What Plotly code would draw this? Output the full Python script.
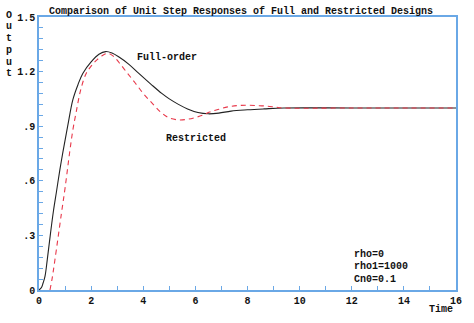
import plotly.graph_objects as go

# Unit step responses (time, output)
t_full = [0, 0.1, 0.16, 0.23, 0.32, 0.44, 0.55, 0.67, 0.8, 0.92, 1.1, 1.3, 1.5, 1.68,
          2.0, 2.3, 2.56, 2.8, 3.07, 3.45, 3.83, 4.3, 4.71, 5.0, 5.35, 5.7, 6.1, 6.5,
          6.9, 7.37, 8.0, 8.63, 9.4, 12.0, 16.0]
y_full = [0, 0.015, 0.04, 0.075, 0.17, 0.31, 0.43, 0.54, 0.66, 0.76, 0.9, 1.046, 1.13, 1.19,
          1.253, 1.295, 1.31, 1.302, 1.28, 1.24, 1.19, 1.13, 1.08, 1.05, 1.02, 0.995, 0.975, 0.968,
          0.972, 0.983, 0.99, 0.995, 1.0, 1.0, 1.0]

t_restr = [0.42, 0.5, 0.61, 0.86, 1.0, 1.18, 1.3, 1.43, 1.6, 1.81, 2.0, 2.19, 2.45, 2.65,
           2.85, 3.07, 3.4, 3.7, 4.0, 4.33, 4.65, 4.97, 5.34, 5.65, 5.98, 6.3, 6.55, 6.9,
           7.24, 7.6, 8.0, 8.4, 8.76, 9.1, 9.4, 12.0, 16.0]
y_restr = [0, 0.06, 0.165, 0.42, 0.56, 0.76, 0.88, 0.98, 1.1, 1.19, 1.23, 1.26, 1.29, 1.30,
           1.285, 1.25, 1.19, 1.136, 1.08, 1.028, 0.98, 0.947, 0.935, 0.937, 0.947, 0.962, 0.978, 0.993,
           1.006, 1.013, 1.015, 1.013, 1.01, 1.004, 1.0, 1.0, 1.0]

y_tickvals = [0, 0.3, 0.6, 0.9, 1.2, 1.5]
y_ticktext = ["0", ".3", ".6", ".9", "1.2", "1.5"]
x_tickvals = [0, 2, 4, 6, 8, 10, 12, 14, 16]

W, H = 474, 323
L, R, T, B = 39, 13, 12, 33
AXIS_BLUE = "#6aa8e6"
FONT = "Liberation Mono"


def px(x, y):
    """Pixel position -> paper coordinates."""
    return (x - L) / (W - L - R), (H - B - y) / (H - T - B)


fig = go.Figure()
fig.add_trace(go.Scatter(x=t_full, y=y_full, mode="lines",
                         line=dict(color="#222222", width=1.1), line_shape="spline"))
fig.add_trace(go.Scatter(x=t_restr, y=y_restr, mode="lines",
                         line=dict(color="#e8384a", width=1.1, dash="5px,4px"),
                         line_shape="spline"))

fnt = dict(family=FONT, size=10, color="#111111")


def label(text, x, y, xanchor="left", size=10):
    xp, yp = px(x, y)
    fig.add_annotation(text=text, x=xp, y=yp, xref="paper", yref="paper",
                       xanchor=xanchor, yanchor="middle", showarrow=False,
                       font=dict(family=FONT, size=size, color="#111111"))


label("<b>Comparison of Unit Step Responses of Full and Restricted Designs</b>", 243, 6, "center")
label("<b>Full-order</b>", 136, 53)
label("<b>Restricted</b>", 166, 136)
label("<b>rho=0</b>", 356, 254)
label("<b>rho1=1000</b>", 356, 266.5)
label("<b>Cn0=0.1</b>", 356, 279)
label("<b>Time</b>", 446, 310, "center")
for i, ch in enumerate("Output"):
    label("<b>%s</b>" % ch, 9, 10 + i * 12, "center")

fig.update_xaxes(range=[0, 16], tickvals=x_tickvals,
                 ticktext=["<b>%d</b>" % v for v in x_tickvals],
                 ticks="inside", ticklen=4, tickcolor=AXIS_BLUE, tickwidth=1,
                 minor=dict(dtick=1, ticks="inside", ticklen=4, tickcolor=AXIS_BLUE),
                 showline=True, linecolor=AXIS_BLUE, linewidth=1.5, mirror=True,
                 showgrid=False, zeroline=False, tickfont=fnt)
fig.update_yaxes(range=[0, 1.5], tickvals=y_tickvals,
                 ticktext=["<b>%s</b>" % s for s in y_ticktext],
                 ticks="inside", ticklen=4, tickcolor=AXIS_BLUE, tickwidth=1,
                 minor=dict(tickvals=[round(i * 0.06, 2) for i in range(26)],
                            ticks="inside", ticklen=4, tickcolor=AXIS_BLUE),
                 showline=True, linecolor=AXIS_BLUE, linewidth=1.5, mirror=True,
                 showgrid=False, zeroline=False, tickfont=fnt)

fig.update_layout(width=W, height=H, margin=dict(l=L, r=R, t=T, b=B),
                  plot_bgcolor="white", paper_bgcolor="white", showlegend=False)

fig.write_html("out.html")
